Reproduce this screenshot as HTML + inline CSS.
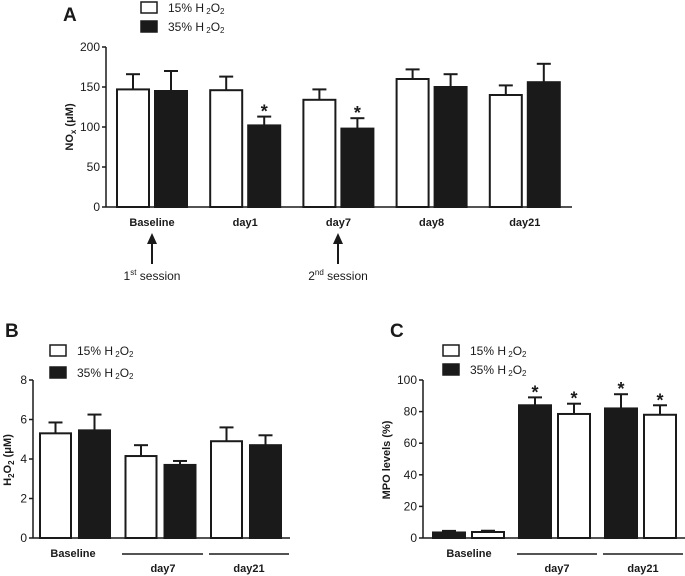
<!DOCTYPE html>
<html><head><meta charset="utf-8">
<style>
body{margin:0;background:#fff;}
svg{display:block;font-family:"Liberation Sans",Arial,sans-serif;}
</style></head>
<body>
<svg id="fig" width="685" height="576" viewBox="0 0 685 576" xmlns="http://www.w3.org/2000/svg"></svg>
<script>
// Panel A data (NOx, µM)
const aCategories = ["Baseline","day1","day7","day8","day21"];
const aMean15 = [147,146,134,160,140];
const aErr15 = [19,17,13,12,12];
const aMean35 = [145,102,98,150,156];
const aErr35 = [25,11,13,16,23];
const aStars15 = [false,false,false,false,false];
const aStars35 = [false,true,true,false,false];
const aTicks = [0,50,100,150,200];

// Panel B data (H2O2, µM)
const bMean15 = [5.3,4.15,4.9];
const bErr15 = [0.55,0.55,0.7];
const bMean35 = [5.45,3.7,4.7];
const bErr35 = [0.8,0.2,0.5];
const bTicks = [0,2,4,6,8];

// Panel C data (MPO %)
const cMean35 = [3.5,84,82];
const cErr35 = [1,5,9];
const cMean15 = [3.8,78.5,78];
const cErr15 = [0.8,6.5,6];
const cTicks = [0,20,40,60,80,100];

const NS="http://www.w3.org/2000/svg";
const svg=document.getElementById('fig');
function mk(tag,attrs,parent){const e=document.createElementNS(NS,tag);for(const k in attrs)e.setAttribute(k,attrs[k]);(parent||svg).appendChild(e);return e;}
function txt(x,y,s,size,anchor,weight,parent){const t=mk('text',{x:x,y:y,'font-size':size,'text-anchor':anchor||'start','font-weight':weight||'normal',fill:'#1a1a1a'},parent);t.innerHTML=s;return t;}

function yScale(y0,y1,max){return v=>y0-(v/max)*(y0-y1);}

function drawBar(g,x,w,v,e,filled,y,star,name){
  const r=mk('rect',{x:x,y:y(v),width:w,height:y(0)-y(v),fill:filled?'#1a1a1a':'#fff',stroke:'#1a1a1a','stroke-width':2},g);
  
  
  const cx=x+w/2;
  mk('line',{x1:cx,x2:cx,y1:y(v),y2:y(v+e),stroke:'#1a1a1a','stroke-width':2},g);
  mk('line',{x1:cx-7,x2:cx+7,y1:y(v+e),y2:y(v+e),stroke:'#1a1a1a','stroke-width':2},g);
  if(star){txt(cx,y(v+e)+1,'*',18,'middle','bold',g);}
}

function drawAxis(g,xAxis,xEnd,y,ticks,max){
  mk('line',{x1:xAxis,x2:xAxis,y1:y(0),y2:y(max),stroke:'#1a1a1a','stroke-width':1.5},g);
  mk('line',{x1:xAxis,x2:xEnd,y1:y(0),y2:y(0),stroke:'#1a1a1a','stroke-width':1.5},g);
  ticks.forEach(t=>{
    mk('line',{x1:xAxis-4,x2:xAxis,y1:y(t),y2:y(t),stroke:'#1a1a1a','stroke-width':1.5},g);
    const l=txt(xAxis-6,y(t)+4,String(t),12,'end','normal',g);
    
    
  });
}

function legend(g,x,y1,y2){
  const b1=mk('rect',{x:x,y:y1,width:16,height:11,fill:'#fff',stroke:'#1a1a1a','stroke-width':1.5},g);
  
  
  txt(x+27,y1+10,'15% H<tspan font-size="8" dy="2"> 2</tspan><tspan dy="-2">O</tspan><tspan font-size="8" dy="2">2</tspan>',12,'start','normal',g);
  const b2=mk('rect',{x:x,y:y2,width:16,height:11,fill:'#1a1a1a',stroke:'#1a1a1a','stroke-width':1.5},g);
  
  
  txt(x+27,y2+10,'35% H<tspan font-size="8" dy="2"> 2</tspan><tspan dy="-2">O</tspan><tspan font-size="8" dy="2">2</tspan>',12,'start','normal',g);
}

// ---------- Panel A ----------
const gA=mk('g',{});


txt(63,21,'A',19,'start','bold',gA);
legend(gA,141,2,21);
const yA=yScale(207,47,200);
drawAxis(gA,106,572,yA,aTicks,200);
const tA=txt(0,0,'NO<tspan font-size="8" dy="3">x</tspan><tspan dy="-3"> (μM)</tspan>',11,'middle','bold',gA);
tA.setAttribute('transform','translate(73,127) rotate(-90)');


aCategories.forEach((c,i)=>{
  const gx=117+i*93.2;
  drawBar(gA,gx,32,aMean15[i],aErr15[i],false,yA,aStars15[i],'bar-15-'+c);
  drawBar(gA,gx+38,32,aMean35[i],aErr35[i],true,yA,aStars35[i],'bar-35-'+c);
  const l=txt(gx+35,226,c,11,'middle','bold',gA);
  
  
});
function arrow(x,label){
  mk('line',{x1:x,x2:x,y1:264,y2:242,stroke:'#1a1a1a','stroke-width':2},gA);
  mk('polygon',{points:`${x-5},244 ${x+5},244 ${x},233`,fill:'#1a1a1a'},gA);
  const t=txt(x,280,label,12,'middle','normal',gA);
  
  
}
arrow(152,'1<tspan font-size="8" dy="-5">st</tspan><tspan dy="5"> session</tspan>');
arrow(338,'2<tspan font-size="8" dy="-5">nd</tspan><tspan dy="5"> session</tspan>');

// ---------- Panel B ----------
const gB=mk('g',{});


txt(5,337,'B',19,'start','bold',gB);
legend(gB,50,345,367);
const yB=yScale(538,380,8);
drawAxis(gB,33,290,yB,bTicks,8);
const tB=txt(0,0,'H<tspan font-size="8" dy="3">2</tspan><tspan dy="-3">O</tspan><tspan font-size="8" dy="3">2</tspan><tspan dy="-3"> (μM)</tspan>',11,'middle','bold',gB);
tB.setAttribute('transform','translate(11,460) rotate(-90)');


bMean15.forEach((v,i)=>{
  const gx=40+i*85.5;
  drawBar(gB,gx,31,bMean15[i],bErr15[i],false,yB,false,'bar-b-15-'+i);
  drawBar(gB,gx+39,31,bMean35[i],bErr35[i],true,yB,false,'bar-b-35-'+i);
});
txt(73,557,'Baseline',11,'middle','bold',gB);
mk('line',{x1:122,x2:203,y1:554,y2:554,stroke:'#1a1a1a','stroke-width':1.5},gB);
mk('line',{x1:209,x2:289,y1:554,y2:554,stroke:'#1a1a1a','stroke-width':1.5},gB);
txt(163,572,'day7',11,'middle','bold',gB);
txt(249,572,'day21',11,'middle','bold',gB);

// ---------- Panel C ----------
const gC=mk('g',{});


txt(390,337,'C',19,'start','bold',gC);
legend(gC,443,345,364);
const yC=yScale(538,380,100);
drawAxis(gC,423,685,yC,cTicks,100);
const tC=txt(0,0,'MPO levels (%)',11,'middle','bold',gC);
tC.setAttribute('transform','translate(390,460) rotate(-90)');


cMean35.forEach((v,i)=>{
  const gx=433+i*86;
  drawBar(gC,gx,32,cMean35[i],cErr35[i],true,yC,i>0,'bar-c-35-'+i);
  drawBar(gC,gx+39,32,cMean15[i],cErr15[i],false,yC,i>0,'bar-c-15-'+i);
});
txt(469,557,'Baseline',11,'middle','bold',gC);
mk('line',{x1:517,x2:597,y1:554,y2:554,stroke:'#1a1a1a','stroke-width':1.5},gC);
mk('line',{x1:603,x2:683,y1:554,y2:554,stroke:'#1a1a1a','stroke-width':1.5},gC);
txt(557,572,'day7',11,'middle','bold',gC);
txt(643,572,'day21',11,'middle','bold',gC);
</script>
</body></html>
